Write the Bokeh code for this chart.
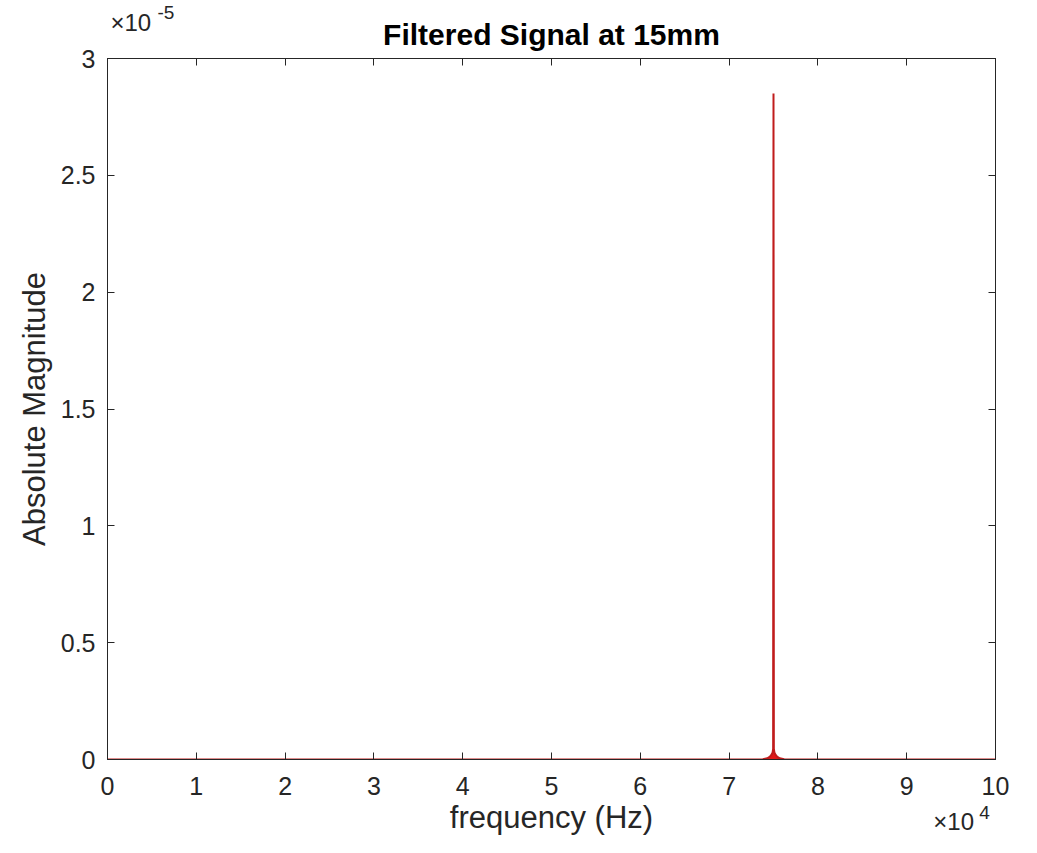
from bokeh.plotting import figure
from bokeh.models import Range1d, LinearAxis, FixedTicker
from bokeh.core.properties import value
from bokeh.embed import file_html
from bokeh.resources import INLINE

# ---- data ----
freq_hz = [0, 20000, 50000, 72000, 73800, 74300, 74600, 74800, 74900, 74960,
           75000, 75040, 75100, 75200, 75400, 75700, 76200, 78000, 100000]
magnitude = [0.2e-8, 0.2e-8, 0.2e-8, 0.3e-8, 1.0e-8, 5e-8, 1.2e-7, 2.2e-7, 3.0e-7, 4.5e-7,
             2.85e-5, 4.5e-7, 3.0e-7, 2.2e-7, 1.2e-7, 5e-8, 1.0e-8, 0.3e-8, 0.2e-8]
x_ticks = [0, 1, 2, 3, 4, 5, 6, 7, 8, 9, 10]          # x 1e4
y_ticks = [0, 0.5, 1, 1.5, 2, 2.5, 3]                 # x 1e-5
title_text = "Filtered Signal at 15mm"
x_label = "frequency (Hz)"
y_label = "Absolute Magnitude"
x_exp_text = ["×10", "4"]
y_exp_text = ["×10", "-5"]

xs = [f / 1e4 for f in freq_hz]
ys = [m / 1e-5 for m in magnitude]

W, H = 1021, 837
FONT = "Liberation Sans"
AX = "#262626"

p = figure(width=W, height=H, output_backend="svg", toolbar_location=None,
           x_range=Range1d(0, 10), y_range=Range1d(0, 3),
           min_border_left=107, min_border_right=26, min_border_top=58, min_border_bottom=78)
p.title.text = title_text
p.title.align = "center"
p.title.text_font = FONT
p.title.text_font_size = "30px"
p.title.text_font_style = "bold"
p.title.text_color = "#000000"
p.title.offset = 0
p.title.standoff = 16

p.grid.visible = False
p.outline_line_color = AX
p.outline_line_width = 1
p.background_fill_color = "white"
p.border_fill_color = "white"

p.varea(x=xs, y1=[0] * len(xs), y2=ys, fill_color="#e00000", fill_alpha=0.9)
p.line(xs, ys, line_color="#c01c1c", line_width=2)

def style(ax, labels=True):
    ax.axis_line_color = AX
    ax.major_tick_line_color = AX
    ax.major_tick_in = 7
    ax.major_tick_out = 0
    ax.minor_tick_line_color = None
    ax.major_label_text_font = FONT
    ax.major_label_text_font_size = "25px"
    ax.major_label_text_color = AX
    ax.axis_label_text_font = FONT
    ax.axis_label_text_font_size = "31px"
    ax.axis_label_text_font_style = "normal"
    ax.axis_label_text_color = AX
    if not labels:
        ax.major_label_overrides = {t: "" for t in ax.ticker.ticks}
        ax.major_label_text_font_size = "1px"
        ax.major_label_standoff = 0

xa = p.xaxis[0]
xa.ticker = FixedTicker(ticks=x_ticks)
style(xa)
xa.major_label_overrides = {t: str(t) for t in x_ticks}
xa.major_label_standoff = 17
xa.axis_label = x_label
xa.axis_label_standoff = 2

ya = p.yaxis[0]
ya.ticker = FixedTicker(ticks=y_ticks)
style(ya)
ya.major_label_overrides = {t: ("%g" % t) for t in y_ticks}
ya.major_label_standoff = 12
ya.axis_label = y_label
ya.axis_label_standoff = 6

top = LinearAxis(ticker=FixedTicker(ticks=x_ticks))
style(top, labels=False)
p.add_layout(top, "above")
right = LinearAxis(ticker=FixedTicker(ticks=y_ticks))
style(right, labels=False)
p.add_layout(right, "right")

# exponent texts: text glyphs on the overlay level (not clipped to the frame)
def txt(x, y, xo, yo, t, size):
    p.text(x=[x], y=[y], text=[t], x_offset=xo, y_offset=yo,
           text_font=value(FONT), text_font_size=size, text_color=AX,
           text_baseline="alphabetic", text_align="left", level="overlay")

txt(0, 3, 3, -36, y_exp_text[0], "24px")
txt(0, 3, 50, -46, y_exp_text[1], "19px")
txt(9.3, 0, 0, 62, x_exp_text[0], "24px")
txt(9.3, 0, 46, 53, x_exp_text[1], "19px")

open("out.html", "w").write(file_html(p, INLINE))
